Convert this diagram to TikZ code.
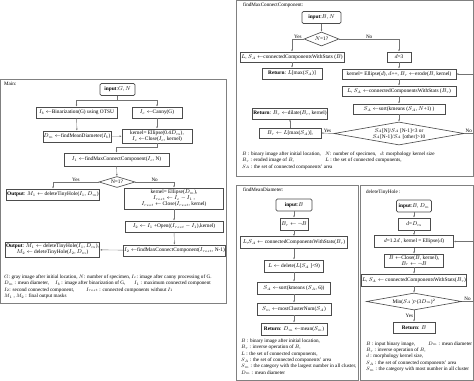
\documentclass[tikz,border=0pt]{standalone}
\usepackage{fontspec}
\setmainfont{Liberation Serif}
\usetikzlibrary{arrows.meta,shapes.geometric}
\tikzset{
  panel/.style={draw=black!50, line width=0.9pt},
  paneltitle/.style={anchor=north west, inner sep=0pt, font=\fontsize{7.3}{8}\selectfont},
  box/.style={draw=black!70, fill=white, line width=0.9pt, minimum height=0.55cm, inner sep=1pt, align=center, font=\fontsize{7.6}{8.5}\selectfont},
  startbox/.style={box, rounded corners=2pt, minimum height=0.6cm},
  decision/.style={diamond, draw=black!70, fill=white, line width=0.9pt, inner sep=0pt, align=center, font=\fontsize{7.6}{8.5}\selectfont},
  link/.style={draw=black!55, line width=0.6pt, -{Latex[length=3pt,width=2.5pt]}},
  linkplain/.style={draw=black!55, line width=0.6pt},
  branch/.style={font=\fontsize{7.3}{8}\selectfont, inner sep=1pt},
  legend/.style={anchor=north west, inner sep=0pt, align=left, font=\fontsize{7.3}{9.1}\selectfont},
}

\begin{document}
\begin{tikzpicture}[x=0.05cm, y=-0.05cm]
\useasboundingbox (0,0) rectangle (474,381);
\draw[panel] (0.5,79) rectangle (226,303);
\draw[panel] (236,0.5) rectangle (473.5,176);
\draw[panel] (236,185) rectangle (358,380.5);
\draw[panel] (360,185) rectangle (473.5,380.5);
\node[paneltitle] at (4,82) {Main:};
\node[paneltitle] at (243,3) {findMaxConnectComponent:};
\node[paneltitle] at (243,188) {findMeanDiameter:};
\node[paneltitle] at (366,190) {deleteTinyHole :};

\node[startbox, minimum width=1.75cm] (mIn) at (117.5,89.5) {\textbf{input}:$G,N$};
\coordinate (mSplit) at (117.5,100);
\node[box, minimum width=4.05cm] (mBin) at (76.5,112.5) {$I_b\leftarrow$Binarization(G) using OTSU};
\node[box, minimum width=2.5cm] (mCan) at (157,112.5) {$I_c\leftarrow$Canny(G)};
\node[box, minimum width=3.3cm] (mDia) at (77,136.5) {$D_m\leftarrow$findMeanDiameter($I_b$)};
\node[box, minimum width=3.5cm, minimum height=0.7cm] (mKer) at (157,136) {kernel= Ellipse(0.4$D_m$),\\$I_c\leftarrow$Close($I_c$, kernel)};
\node[box, minimum width=5.25cm, minimum height=0.65cm] (mMax) at (116.5,159.5) {$I_1\leftarrow$findMaxConnectComponent($I_c$, N)};
\node[decision, aspect=3.3, minimum width=1.8cm, minimum height=0.55cm] (mDec) at (117,182) {N=1?};
\node[box, minimum width=4.5cm] (mOut1) at (53,194.5) {\textbf{Output}: $M_1\leftarrow$ deleteTinyHole($I_1$, $D_m$)};
\node[box, minimum width=4.95cm, minimum height=1.05cm] (mKer2) at (174,198.5) {kernel= Ellipse($D_m$),\\$I_{rest}\leftarrow I_c-I_1$ ,\\$I_{rest}\leftarrow$ Close($I_{rest}$, kernel)};
\node[box, minimum width=4.9cm] (mOpen) at (174,226.5) {$I_2\leftarrow I_1$ +Open(($I_{rest}-I_1$),kernel)};
\node[box, minimum width=4.85cm] (mMax2) at (174.5,250.5) {$I_2\leftarrow$findMaxConnectComponent($I_{rest}$, N-1)};
\node[box, minimum width=4.55cm, minimum height=0.75cm] (mOut2) at (52.5,249.5) {\textbf{Output}: $M_1\leftarrow$ deleteTinyHole($I_1$, $D_m$),\\$M_2\leftarrow$ deleteTinyHole($I_2$, $D_m$)};
\draw[linkplain] (mIn) -- (mSplit);
\draw[link] (mSplit) -| (mBin);
\draw[link] (mSplit) -| (mCan);
\draw[link] (mBin) -- (mDia);
\draw[link] (mCan) -- (mKer);
\draw[link] (mDia) -- (mKer);
\draw[link] (mKer.south) -- ++(0,4) -| (mMax.north);
\draw[link] (mMax) -- (mDec);
\draw[link] (mDec.west) -| node[branch, pos=0.25, above] {Yes} (mOut1.north);
\draw[link] (mDec.east) -| node[branch, pos=0.25, above] {No} (mKer2.north);
\draw[link] (mKer2) -- (mOpen);
\draw[link] (mOpen) -- (mMax2);
\draw[link] (mMax2) -- (mOut2);
\node[legend] at (4,274.5) {$G$: gray image after initial location, $N$: number of specimen, $I_c$: image after canny processing of G.\\
\makebox[2.55cm][l]{$D_m$ : mean diameter,}\makebox[3.95cm][l]{$I_b$ : image after binarization of G,}$I_1$ : maximum connected component\\
\makebox[4.1cm][l]{$I_2$: second connected component,}$I_{rest}$ : connected components without $I_1$\\
$M_1$ , $M_2$ : final output masks};

\node[startbox, minimum width=1.95cm] (fIn) at (321.5,17.5) {\textbf{input}:$B,N$};
\node[decision, aspect=2.5, minimum width=1.75cm, minimum height=0.7cm] (fDec) at (321.5,39) {$N$=1?};
\node[box, minimum width=5.2cm, minimum height=0.5cm] (fCcs) at (292,57) {$L$, $S_A\leftarrow$connectedComponentsWithStats ($B$)};
\node[box, minimum width=3cm] (fRet1) at (292,73.5) {\textbf{Return}: $L$[max($S_A$)]};
\node[box, minimum width=1.2cm, minimum height=0.5cm] (fD3) at (399,57) {$d$=3};
\node[box, minimum width=5.7cm, minimum height=0.5cm] (fKer) at (399,74) {kernel= Ellipse($d$), $d$++, $B_r\leftarrow$erode($B$, kernel)};
\node[box, minimum width=5.7cm, minimum height=0.5cm] (fCcs2) at (399,91) {$L$, $S_A\leftarrow$connectedComponentsWithStats ($B_r$)};
\node[box, minimum width=4.6cm, minimum height=0.5cm] (fSort) at (399,109) {$S_A\leftarrow$sort(kmeans ($S_A$, $N$+1) )};
\node[decision, aspect=5.6, minimum width=6.5cm, minimum height=1.15cm] (fDec2) at (399,133.5) {$S_A$[N]/$S_A$ [N-1]<3 or\\$S_A$[N-1]/$S_A$ [other]>10};
\node[box, minimum width=3.1cm, minimum height=0.5cm] (fBr) at (290,133) {$B_r\leftarrow L$[max($S_A$)],};
\node[box, minimum width=3.75cm] (fRet2) at (290,113.5) {\textbf{Return}: $B_r\leftarrow$dilate($B_r$, kernel)};
\draw[link] (fIn) -- (fDec);
\draw[link] (fDec.west) -| node[branch, pos=0.25, above] {Yes} (fCcs.north);
\draw[link] (fDec.east) -| node[branch, pos=0.25, above] {No} (fD3.north);
\draw[link] (fCcs) -- (fRet1);
\draw[link] (fD3) -- (fKer);
\draw[link] (fKer) -- (fCcs2);
\draw[link] (fCcs2) -- (fSort);
\draw[link] (fSort) -- (fDec2);
\draw[link] (fDec2.east) -- node[branch, above] {No} ++(9,0) |- (fKer.east);
\draw[link] (fDec2.west) -- node[branch, above] {Yes} (fBr.east);
\draw[link] (fBr) -- (fRet2);
\node[legend] at (242,151.5) {\makebox[4.15cm][l]{$B$ : binary image after initial location,}\makebox[2.75cm][l]{$N$: number of specimen,}$d$: morphology kernel size\\
\makebox[4.15cm][l]{$B_r$ : eroded image of $B$,}$L$ : the set of connected components,\\
$S_A$ : the set of connected components' area};

\node[startbox, minimum width=1.8cm] (dIn) at (294,205) {\textbf{input}:$B$};
\node[box, minimum width=1.4cm, minimum height=0.6cm] (dInv) at (294,224) {$B_r\leftarrow\neg B$};
\node[box, minimum width=5.35cm, minimum height=0.6cm] (dCcs) at (294,242.5) {$L$,$S_A\leftarrow$ connectedComponentsWithStats($B_r$)};
\node[box, minimum width=2.95cm, minimum height=0.6cm] (dDel) at (294,266) {$L\leftarrow$ delete($L$[$S_A$ ]<9)};
\node[box, minimum width=3.65cm, minimum height=0.6cm] (dSort) at (294,288) {$S_A\leftarrow$sort(kmeans ($S_A$, 6))};
\node[box, minimum width=3.7cm, minimum height=0.6cm] (dMost) at (294,309) {$S_m\leftarrow$mostClusterNum($S_A$)};
\node[box, minimum width=3.3cm, minimum height=0.6cm] (dRet) at (294,329) {\textbf{Return}: $D_m\leftarrow$mean($S_m$)};
\draw[link] (dIn) -- (dInv);
\draw[link] (dInv) -- (dCcs);
\draw[link] (dCcs) -- (dDel);
\draw[link] (dDel) -- (dSort);
\draw[link] (dSort) -- (dMost);
\draw[link] (dMost) -- (dRet);
\node[legend] at (241,338.5) {$B$ : binary image after initial location,\\
$B_r$ : inverse operation of $B$,\\
$L$ : the set of connected components,\\
$S_A$ : the set of connected components' area\\
$S_m$ : the category with the largest number in all cluster,\\
$D_m$ : mean diameter};

\node[startbox, minimum width=1.75cm] (tIn) at (414,206) {\textbf{input}:$B$, $D_m$};
\node[box, minimum width=1.6cm, minimum height=0.6cm] (tD) at (414,224) {$d$=$D_m$};
\node[box, minimum width=3.95cm, minimum height=0.6cm] (tKer) at (414,241.5) {$d$=1.2$d$ , kernel = Ellipse($d$)};
\node[box, minimum width=2.95cm, minimum height=0.65cm] (tClose) at (414,260.5) {$B\leftarrow$Close($B$, kernel),\\$B_r\leftarrow\neg B$};
\node[box, minimum width=5.15cm, minimum height=0.6cm] (tCcs) at (414,280) {$L$, $S_A\leftarrow$ connectedComponentsWithStats($B_r$)};
\node[decision, aspect=5.6, minimum width=4.75cm, minimum height=0.85cm] (tDec) at (414,301.5) {Min($S_A$ )>(3$D_m$)$^2$};
\node[box, minimum width=2.1cm, minimum height=0.55cm] (tRet) at (414,327.5) {\textbf{Return}: $B$};
\draw[link] (tIn) -- (tD);
\draw[link] (tD) -- (tKer);
\draw[link] (tKer) -- (tClose);
\draw[link] (tClose) -- (tCcs);
\draw[link] (tCcs) -- (tDec);
\draw[link] (tDec.east) -- node[branch, above] {No} ++(11.5,0) |- (tKer.east);
\draw[link] (tDec) -- node[branch, left] {Yes} (tRet);
\node[legend] at (366,341.5) {\makebox[3.1cm][l]{$B$ : input binary image,}$D_m$ : mean diameter\\
$B_r$ : inverse operation of $B$,\\
$d$ : morphology kernel size,\\
$S_A$ : the set of connected components' area\\
$S_m$ : the category with most number in all cluster};
\end{tikzpicture}
\end{document}
